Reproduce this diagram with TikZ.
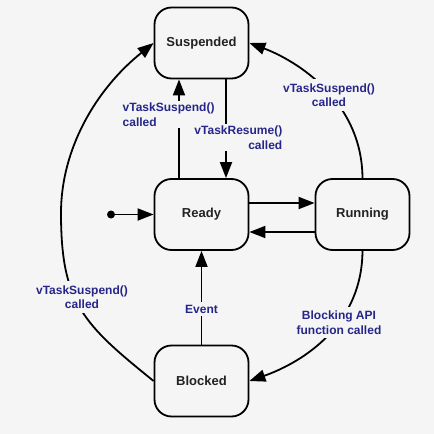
\documentclass[tikz,border=0pt]{standalone}
\usepackage{fontspec}
\setmainfont{Liberation Sans}
\usetikzlibrary{arrows.meta}
\definecolor{bg}{HTML}{F5F5F5}
\definecolor{lbl}{HTML}{26268A}
\definecolor{txt}{HTML}{222222}
\begin{document}
\begin{tikzpicture}[x=1pt,y=-1pt,
  state/.style={draw=black, line width=1.8pt, rounded corners=17pt,
    minimum width=94pt, minimum height=71pt, fill=bg,
    font=\bfseries\fontsize{13}{15}\selectfont, text=txt, inner sep=0pt},
  lab/.style={font=\bfseries\fontsize{12}{14.5}\selectfont, text=lbl,
    fill=bg, inner sep=1.5pt},
  curvelab/.style={lab, align=center, inner sep=4pt},
  edge/.style={line width=1.8pt, -{Triangle[length=16pt,width=12pt]}}]
\fill[bg] (0,0) rectangle (434,434);
\useasboundingbox (0,0) rectangle (434,434);

\node[state] (susp) at (201.5,43) {Suspended};
\node[state] (ready) at (201.5,214.5) {Ready};
\node[state] (run) at (362.5,214.5) {Running};
\node[state] (blocked) at (201.5,381) {Blocked};
\node[circle, fill=black, inner sep=0pt, minimum size=8pt] (init) at (111,214.5) {};

\draw[edge] (init) -- (ready.west);
\draw[edge] ([yshift=11.5pt]ready.east) -- ([yshift=11.5pt]run.west);
\draw[edge] ([yshift=-17.5pt]run.west) -- ([yshift=-17.5pt]ready.east);
\draw[edge] ([xshift=-22.5pt]ready.north) -- ([xshift=-22.5pt]susp.south);
\draw[edge] ([xshift=24.5pt]susp.south) -- ([xshift=24.5pt]ready.north);
\draw[edge] (blocked.north) -- (ready.south);
\draw[edge] (run.north) .. controls (362,100) and (295,60) .. (susp.east);
\draw[edge] (run.south) .. controls (362,330) and (295,365) .. (blocked.east);
\draw[edge] (blocked.west) .. controls (83,324) and (61,303) .. (61,213)
  .. controls (61,150) and (95,90) .. (susp.west);

\node[lab, align=left, anchor=west] (l1) at (121,114.5) {vTaskSuspend()\\called};
\node[lab, align=right, anchor=east] (l2) at (284,137.5) {vTaskResume()\\called};
\node[curvelab] (l3) at (329,95) {vTaskSuspend()\\called};
\node[curvelab] (l4) at (339,322.5) {Blocking API\\function called};
\node[curvelab] (l5) at (82,297) {vTaskSuspend()\\called};
\node[lab, inner sep=2.5pt] (l6) at (201.5,309) {Event};
\end{tikzpicture}
\end{document}
